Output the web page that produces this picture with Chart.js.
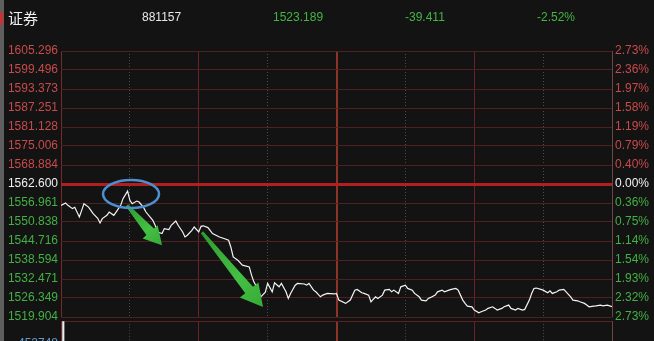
<!DOCTYPE html>
<html>
<head>
<meta charset="utf-8">
<script src="https://cdn.jsdelivr.net/npm/chart.js@4.4.1/dist/chart.umd.min.js"></script>
<style>
  html, body { margin: 0; padding: 0; background: #131313; width: 654px; height: 341px; overflow: hidden; }
  #wrap { position: relative; width: 654px; height: 341px; }
  #priceChart { position: absolute; left: 0; top: 0; }
  #volChart { position: absolute; left: 0; top: 311px; }
  .hd { position: absolute; top: 10px; line-height: 17px; font: 12px "Liberation Sans", Arial, sans-serif; white-space: nowrap; }
  .name { font: 15px "Noto Sans CJK SC", sans-serif; color: #f0f0f0; left: 8px; top: 8px; line-height: 20px; }
  .up { color: #e8e8e8; }
  .dn { color: #45b445; }
  #strip { position: absolute; left: 0; top: 0; width: 4px; height: 341px; background: #5e5e5e; }
  #flag { position: absolute; left: 0; top: 12px; width: 3px; height: 13px; background: #c83232; }
</style>
</head>
<body>
<div id="wrap">
  <canvas id="priceChart" width="654" height="341"></canvas>
  <canvas id="volChart" width="654" height="100"></canvas>
  <div id="strip"></div>
  <div id="flag"></div>
  <div class="hd name">证券</div>
  <div class="hd up" style="left:142px">881157</div>
  <div class="hd dn" style="left:273px">1523.189</div>
  <div class="hd dn" style="left:405px">-39.411</div>
  <div class="hd dn" style="left:537px">-2.52%</div>
</div>
<script>
// minute of the session (0..240) and index price
const minutes = [0,2,3,5,6,8,9,10,12,13,14,16,17,18,20,21,23,24,26,27,29,30,31,33,34,36,37,40,41,42,44,45,47,48,50,51,53,54,55,57,58,60,61,62,64,66,69,71,73,74,75,77,79,82,83,84,86,87,89,90,92,93,95,96,98,99,100,102,103,106,107,108,110,111,113,114,116,119,120,121,124,126,128,129,131,132,134,135,137,138,140,141,143,144,145,147,148,150,151,153,154,156,157,159,160,161,163,164,166,167,169,170,172,173,175,176,177,179,180,182,183,185,186,188,189,190,192,193,195,196,198,199,201,202,204,205,206,207,209,210,212,213,214,216,217,219,220,222,223,225,226,228,229,230,232,233,235,236,238,240];
const prices = [1555.75,1556.48,1555.75,1554.69,1555.11,1552.0,1554.15,1556.29,1555.2,1554.15,1553.09,1551.59,1550.08,1551.49,1552.55,1553.6,1552.55,1553.6,1555.75,1557.89,1560.33,1557.35,1556.29,1557.12,1556.8,1555.01,1553.6,1550.94,1549.34,1547.2,1546.69,1548.29,1547.97,1549.34,1550.72,1549.34,1547.2,1545.6,1546.14,1547.74,1548.8,1547.2,1549.02,1549.18,1548.61,1546.69,1545.6,1545.09,1544.54,1542.3,1539.19,1538.14,1536.54,1535.99,1533.33,1531.19,1528.53,1526.39,1527.89,1530.68,1527.99,1530.87,1529.59,1530.68,1527.99,1525.87,1527.47,1530.13,1530.68,1530.5,1530.13,1530.68,1528.53,1527.99,1526.39,1526.93,1527.47,1527.3,1527.47,1525.33,1524.27,1525.33,1528.53,1528.75,1527.67,1527.47,1526.93,1524.78,1526.39,1525.87,1526.93,1528.53,1528.75,1527.99,1528.53,1527.47,1529.59,1530.13,1529.08,1528.53,1527.47,1526.39,1525.33,1525.1,1525.87,1526.19,1526.93,1527.99,1528.53,1527.99,1528.53,1528.75,1529.08,1528.53,1525.33,1524.27,1523.41,1523.18,1522.13,1521.26,1521.58,1522.13,1522.67,1523.18,1522.67,1522.13,1522.67,1523.18,1523.73,1522.67,1522.13,1522.67,1522.13,1522.35,1525.33,1527.47,1529.08,1529.2,1528.75,1528.53,1527.67,1528.31,1527.47,1527.99,1528.53,1528.75,1527.99,1526.39,1525.33,1525.1,1524.78,1524.27,1523.73,1523.18,1523.41,1523.5,1523.73,1523.5,1523.73,1523.19];

// axis labels, top to bottom
const priceLabels = ["1605.296","1599.496","1593.373","1587.251","1581.128","1575.006","1568.884","1562.600","1556.961","1550.838","1544.716","1538.594","1532.471","1526.349","1519.904"];
const pctLabels = ["2.73%","2.36%","1.97%","1.58%","1.19%","0.79%","0.40%","0.00%","0.36%","0.75%","1.14%","1.54%","1.93%","2.32%","2.73%"];

const volMinutes = [1];
const volumes = [627000];
const volLabel = 452748;

const priceMax = parseFloat(priceLabels[0]);
const priceMin = parseFloat(priceLabels[priceLabels.length - 1]);
const nTicks = priceLabels.length;
const midIdx = (nTicks - 1) / 2;

const RED = "#c84a4a", GREEN = "#43b043", WHITE = "#f0f0f0";
const FONT = { family: "'Liberation Sans', Arial, sans-serif", size: 12 };

function labelColor(ctx) {
  if (ctx.index === midIdx) return WHITE;
  return ctx.index > midIdx ? RED : GREEN;
}
function evenTicks(scale) {
  scale.ticks = priceLabels.map((_, i) => ({ value: priceMin + i * (priceMax - priceMin) / (nTicks - 1) }));
}

// vertical grid: borders, hourly solid lines, half-hour dotted lines
function timeAxis() {
  return {
    type: "linear", min: 0, max: 240, offset: false,
    ticks: { display: false, stepSize: 30 },
    grid: {
      offset: false,
      drawTicks: false,
      color: (ctx) => {
        const v = ctx.tick ? ctx.tick.value : 0;
        if (v === 0) return "#7a2828";
        if (v === 240) return "#6e4646";
        if (v === 120) return "#8e3426";
        if (v % 60 === 0) return "#662424";
        return "#4c4c4c";
      },
      lineWidth: (ctx) => (ctx.tick && ctx.tick.value === 120 ? 2 : 1),
    },
    border: {
      display: false,
      dash: (ctx) => (ctx.tick && ctx.tick.value % 60 === 30 ? [1, 2] : []),
    },
    afterFit: (s) => { s.height = 0; },
  };
}

// ring and arrows marked on the picture, in data units
const ring = { x: 30.5, y: 1559.4, rx: 28, ry: 14 };
const arrows = [
  { from: [28.7, 1555.8], to: [44.0, 1542.9], head: 18, half: 10 },
  { from: [61.4, 1547.1], to: [88.0, 1523.1], head: 22, half: 12 },
];

const marksPlugin = {
  id: "marks",
  afterDatasetsDraw(chart) {
    const { ctx, scales } = chart;
    const sx = scales.x, sy = scales.y;
    ctx.save();
    arrows.forEach((a) => {
      const x0 = sx.getPixelForValue(a.from[0]), y0 = sy.getPixelForValue(a.from[1]);
      const x1 = sx.getPixelForValue(a.to[0]), y1 = sy.getPixelForValue(a.to[1]);
      const L = Math.hypot(x1 - x0, y1 - y0);
      const dx = (x1 - x0) / L, dy = (y1 - y0) / L;
      const nx = -dy, ny = dx;
      const bx = x1 - dx * a.head, by = y1 - dy * a.head;
      const g = ctx.createLinearGradient(x0, y0, x1, y1);
      g.addColorStop(0, "#2e9a2e");
      g.addColorStop(0.6, "#44c044");
      g.addColorStop(1, "#36aa36");
      ctx.fillStyle = g;
      ctx.beginPath();
      ctx.moveTo(x0 + nx * 1.5, y0 + ny * 1.5);
      ctx.lineTo(bx + nx * 5, by + ny * 5);
      ctx.lineTo(bx + nx * a.half, by + ny * a.half);
      ctx.lineTo(x1, y1);
      ctx.lineTo(bx - nx * a.half, by - ny * a.half);
      ctx.lineTo(bx - nx * 5, by - ny * 5);
      ctx.lineTo(x0 - nx * 1.5, y0 - ny * 1.5);
      ctx.closePath();
      ctx.fill();
    });
    ctx.strokeStyle = "#4d8fd0";
    ctx.lineWidth = 2.5;
    ctx.beginPath();
    ctx.ellipse(sx.getPixelForValue(ring.x), sy.getPixelForValue(ring.y), ring.rx, ring.ry, 0, 0, Math.PI * 2);
    ctx.stroke();
    ctx.restore();
  },
};

new Chart(document.getElementById("priceChart").getContext("2d"), {
  type: "line",
  data: {
    datasets: [{
      data: minutes.map((m, i) => ({ x: m, y: prices[i] })),
      borderColor: "#f4f4f4",
      borderWidth: 1.2,
      pointRadius: 0,
      tension: 0,
    }],
  },
  options: {
    responsive: false,
    animation: false,
    devicePixelRatio: 1,
    layout: { padding: { top: 51, bottom: 24, left: 0, right: 0 } },
    plugins: { legend: { display: false }, tooltip: { enabled: false } },
    scales: {
      x: timeAxis(),
      y: {
        position: "left", min: priceMin, max: priceMax,
        afterBuildTicks: evenTicks,
        afterFit: (s) => { s.width = 61; },
        ticks: {
          autoSkip: false, padding: 3, font: FONT, color: labelColor,
          callback: (v, i) => priceLabels[nTicks - 1 - i],
        },
        grid: {
          drawTicks: false,
          color: (ctx) => (ctx.index === midIdx ? "#b31f1f" : "#4f2020"),
          lineWidth: (ctx) => (ctx.index === midIdx ? 3 : 1),
        },
        border: { display: false },
      },
      y2: {
        position: "right", min: priceMin, max: priceMax,
        afterBuildTicks: evenTicks,
        afterFit: (s) => { s.width = 42; },
        ticks: {
          autoSkip: false, padding: 3, font: FONT, color: labelColor,
          callback: (v, i) => pctLabels[nTicks - 1 - i],
        },
        grid: { display: false, drawTicks: false },
        border: { display: false },
      },
    },
  },
  plugins: [marksPlugin],
});

const volMax = 627000;
new Chart(document.getElementById("volChart").getContext("2d"), {
  type: "bar",
  data: {
    datasets: [{
      data: volMinutes.map((m, i) => ({ x: m, y: volumes[i] })),
      backgroundColor: "#eeeeee",
      barThickness: 1.5,
    }],
  },
  options: {
    responsive: false,
    animation: false,
    devicePixelRatio: 1,
    layout: { padding: { top: 0, bottom: 0, left: 0, right: 42 } },
    plugins: { legend: { display: false }, tooltip: { enabled: false } },
    scales: {
      x: timeAxis(),
      y: {
        position: "left", min: 0, max: volMax,
        afterBuildTicks: (s) => { s.ticks = [{ value: volLabel }, { value: volMax }]; },
        afterFit: (s) => { s.width = 61; },
        ticks: {
          autoSkip: false, padding: 3, font: FONT, color: "#5b9bd5",
          callback: (v) => (v === volLabel ? String(volLabel) : ""),
        },
        grid: { drawTicks: false, color: "#5a2222" },
        border: { display: false },
      },
    },
  },
});
</script>
</body>
</html>
